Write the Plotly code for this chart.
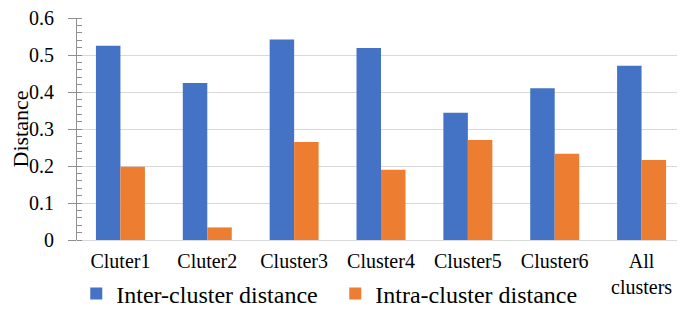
import plotly.graph_objects as go

categories = ["Cluter1", "Cluter2", "Cluster3", "Cluster4", "Cluster5", "Cluster6", "All<br>clusters"]
inter_cluster = [0.525, 0.424, 0.542, 0.519, 0.344, 0.410, 0.471]
intra_cluster = [0.198, 0.034, 0.265, 0.190, 0.270, 0.233, 0.216]
series_names = ["Inter-cluster distance", "Intra-cluster distance"]
y_tick_vals = [0, 0.1, 0.2, 0.3, 0.4, 0.5, 0.6]
y_tick_text = ["0", "0.1", "0.2", "0.3", "0.4", "0.5", "0.6"]

FONT = "'Liberation Serif', 'Times New Roman', Times, serif"
BLUE = "#4472C4"
ORANGE = "#ED7D31"
AXIS_GRAY = "#8f8f8f"
GRID = "#d9d9d9"

fig = go.Figure()
fig.add_trace(go.Bar(x=categories, y=inter_cluster, name=series_names[0],
                     marker=dict(color=BLUE, line=dict(width=0))))
fig.add_trace(go.Bar(x=categories, y=intra_cluster, name=series_names[1],
                     marker=dict(color=ORANGE, line=dict(width=0))))

# the page body has an 8px default margin, so the figure is 8px smaller
fig.update_layout(
    width=677, height=302,
    margin=dict(l=69, r=0, t=10, b=70, autoexpand=False),
    paper_bgcolor="white", plot_bgcolor="white",
    barmode="group", bargap=0.436, bargroupgap=0,
    font=dict(family=FONT, color="#000000", size=20),
    showlegend=True,
    legend=dict(orientation="h", x=-0.0012, xanchor="left", y=-0.243, yanchor="middle",
                font=dict(family=FONT, size=24, color="#000000"),
                bgcolor="rgba(0,0,0,0)", entrywidth=214, entrywidthmode="pixels",
                itemclick=False),
    xaxis=dict(
        showline=True, linecolor=GRID, linewidth=1,
        ticks="", showgrid=False,
        tickfont=dict(family=FONT, size=20, color="#000000"),
        ticklabelstandoff=3,
    ),
    yaxis=dict(
        range=[0, 0.6], tickmode="array", tickvals=y_tick_vals, ticktext=y_tick_text,
        showgrid=True, gridcolor=GRID, gridwidth=1,
        showline=True, linecolor=AXIS_GRAY, linewidth=1,
        ticks="outside", ticklen=8, tickcolor=AXIS_GRAY, tickwidth=1,
        minor=dict(dtick=0.02, tick0=0, ticks="inside", ticklen=5, tickcolor=AXIS_GRAY, showgrid=False),
        tickfont=dict(family=FONT, size=20, color="#000000"),
        ticklabelstandoff=10, ticklabeloverflow="allow",
        zeroline=False,
        title=dict(text="Distance", font=dict(family=FONT, size=22, color="#000000"), standoff=8),
    ),
    yaxis2=dict(
        range=[0, 0.6], overlaying="y", anchor="x", side="left",
        tickmode="array", tickvals=y_tick_vals,
        showticklabels=False, showgrid=False, showline=False, zeroline=False,
        ticks="inside", ticklen=7, tickcolor=AXIS_GRAY, tickwidth=1,
    ),
)

fig.write_html("out.html")
